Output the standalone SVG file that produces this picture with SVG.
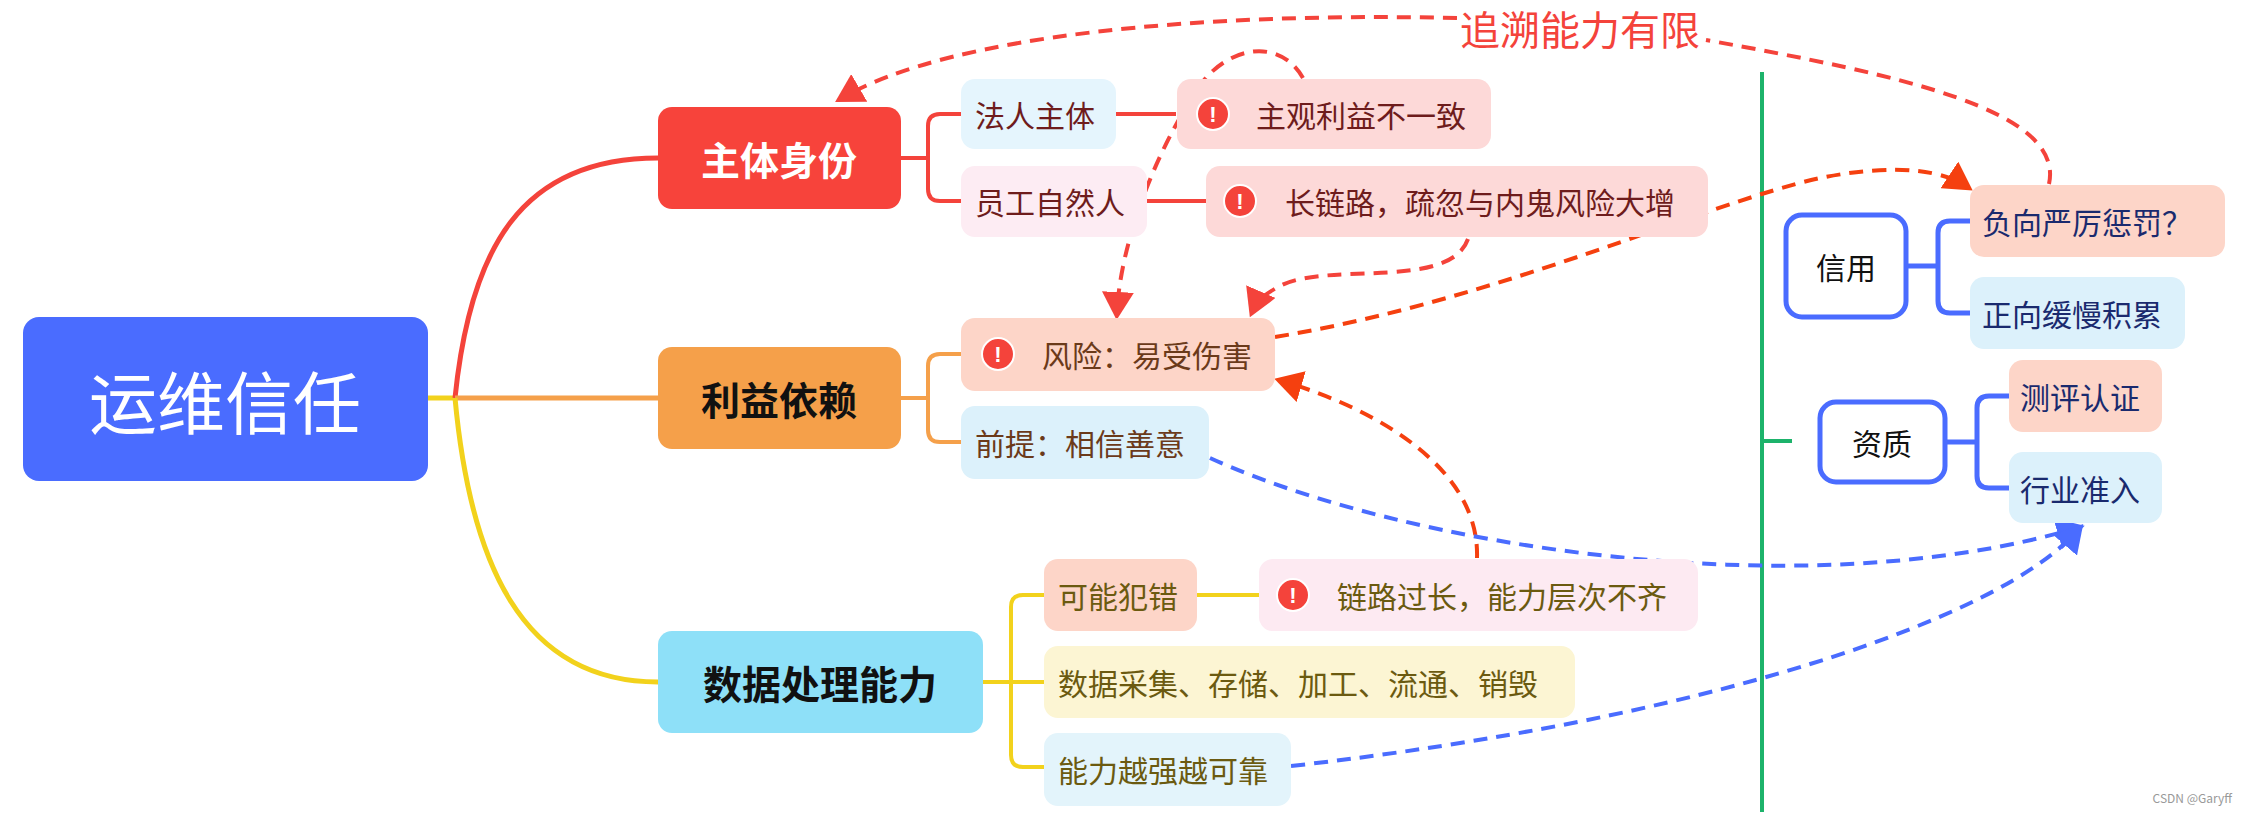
<svg xmlns="http://www.w3.org/2000/svg" width="2248" height="814" viewBox="0 0 2248 814">
<defs>
<style>
text{font-family:"Noto Sans CJK SC","Noto Sans",sans-serif;dominant-baseline:central}
.t{font-size:30px}
.m{font-size:39px;font-weight:bold}
.r{fill:#6e1c1c}.o{fill:#6b3a1a}.y{fill:#6b5a10}.b{fill:#1a2a6e}
.ic{fill:#f4433b;stroke:#fff;stroke-width:2}
.ix{fill:#fff;font-size:22px;font-weight:bold;font-family:"Liberation Sans",sans-serif;text-anchor:middle}
.dr{fill:none;stroke:#f4433b;stroke-width:4;stroke-dasharray:14 9}
.do{fill:none;stroke:#f5400f;stroke-width:4;stroke-dasharray:14 9}
.db{fill:none;stroke:#4a6cff;stroke-width:4;stroke-dasharray:14 9}
</style>
<marker id="ar" markerWidth="8" markerHeight="8" refX="5" refY="4" orient="auto" markerUnits="strokeWidth"><path d="M0,0L7,4L0,8z" fill="#f4433b"/></marker>
<marker id="ao" markerWidth="8" markerHeight="8" refX="5" refY="4" orient="auto" markerUnits="strokeWidth"><path d="M0,0L7,4L0,8z" fill="#f5400f"/></marker>
<marker id="ab" markerWidth="8" markerHeight="8" refX="5" refY="4" orient="auto" markerUnits="strokeWidth"><path d="M0,0L7,4L0,8z" fill="#4a6cff"/></marker>
</defs>
<rect width="2248" height="814" fill="#fff"/>
<g id="connectors" fill="none" stroke-width="5">
<path d="M428,398H458" stroke="#f2d21c"/>
<path d="M455,398C470,250 520,158 658,158" stroke="#f4433b"/>
<path d="M455,398H658" stroke="#f5a04a"/>
<path d="M455,398C470,560 520,682 658,682" stroke="#f2d21c"/>
<path d="M901,158H928M961,114H940Q928,114 928,126V189Q928,201 940,201H961" stroke="#f4433b" stroke-width="4"/>
<path d="M1116,114H1176M1147,201H1206" stroke="#f4433b" stroke-width="4"/>
<path d="M901,398H928M961,354H940Q928,354 928,366V430Q928,442 940,442H961" stroke="#f5a04a" stroke-width="4"/>
<path d="M983,682H1044M1044,595H1023Q1011,595 1011,607V755Q1011,767 1023,767H1044" stroke="#f2d21c" stroke-width="4"/>
<path d="M1197,595H1259" stroke="#f2d21c" stroke-width="4"/>
<path d="M1762,72V812M1762,441H1792" stroke="#1db36b" stroke-width="4"/>
<path d="M1906,266H1938M1970,221H1950Q1938,221 1938,233V301Q1938,313 1950,313H1970" stroke="#4a6cff" stroke-width="5"/>
<path d="M1945,442H1977M2009,396H1989Q1977,396 1977,408V476Q1977,488 1989,488H2009" stroke="#4a6cff" stroke-width="5"/>
<path class="dr" d="M2049,184C2065,110 1900,75 1706,40"/>
<path class="dr" d="M1457,18C1200,12 950,35 842,98" marker-end="url(#ar)"/>
<path class="dr" d="M1303,78C1280,38 1230,45 1200,85C1150,160 1120,250 1117,312" marker-end="url(#ar)"/>
<path class="dr" d="M1468,239C1450,290 1330,262 1282,285C1262,295 1256,303 1253,310" marker-end="url(#ar)"/>
<path class="do" d="M1275,337C1500,300 1700,205 1820,178C1900,162 1945,172 1966,186" marker-end="url(#ao)"/>
<path class="do" d="M1477,558C1480,470 1380,410 1282,381" marker-end="url(#ao)"/>
<path class="db" d="M1210,458C1400,545 1800,610 2077,528" marker-end="url(#ab)"/>
<path class="db" d="M1291,766C1700,720 2000,620 2078,530" marker-end="url(#ab)"/>
</g>
<text x="1580" y="28" font-size="40" fill="#f4433b" text-anchor="middle">追溯能力有限</text>
<g id="root"><rect x="23" y="317" width="405" height="164" rx="16" fill="#4a6cff"/><text x="225" y="399" font-size="68" fill="#fff" text-anchor="middle">运维信任</text></g>
<g id="n1"><rect x="658" y="107" width="243" height="102" rx="14" fill="#f7433b"/><text class="m" x="779" y="158" fill="#fff" text-anchor="middle">主体身份</text></g>
<g id="n2"><rect x="658" y="347" width="243" height="102" rx="14" fill="#f5a04a"/><text class="m" x="779" y="398" fill="#111" text-anchor="middle">利益依赖</text></g>
<g id="n3"><rect x="658" y="631" width="325" height="102" rx="14" fill="#8ee0f8"/><text class="m" x="820" y="682" fill="#111" text-anchor="middle">数据处理能力</text></g>
<g id="c1"><rect x="961" y="79" width="155" height="70" rx="14" fill="#e5f5fd"/><text class="t r" x="975" y="114">法人主体</text></g>
<g id="c2"><rect x="961" y="166" width="186" height="71" rx="14" fill="#fdecf3"/><text class="t r" x="975" y="201">员工自然人</text></g>
<g id="c3"><rect x="1177" y="79" width="314" height="70" rx="14" fill="#fdd9d8"/><circle class="ic" cx="1213" cy="114" r="16"/><text class="ix" x="1213" y="114">!</text><text class="t r" x="1256" y="114">主观利益不一致</text></g>
<g id="c4"><rect x="1206" y="166" width="502" height="71" rx="14" fill="#fdd9d8"/><circle class="ic" cx="1240" cy="201" r="16"/><text class="ix" x="1240" y="201">!</text><text class="t r" x="1285" y="201">长链路，疏忽与内鬼风险大增</text></g>
<g id="c5"><rect x="961" y="318" width="314" height="73" rx="14" fill="#fdd5c8"/><circle class="ic" cx="998" cy="354" r="16"/><text class="ix" x="998" y="354">!</text><text class="t o" x="1042" y="354">风险：易受伤害</text></g>
<g id="c6"><rect x="961" y="406" width="248" height="73" rx="14" fill="#dcf1fb"/><text class="t o" x="975" y="442">前提：相信善意</text></g>
<g id="c7"><rect x="1044" y="559" width="153" height="72" rx="14" fill="#fdd5c8"/><text class="t y" x="1058" y="595">可能犯错</text></g>
<g id="c8"><rect x="1259" y="559" width="439" height="72" rx="14" fill="#fdeaf2"/><circle class="ic" cx="1293" cy="595" r="16"/><text class="ix" x="1293" y="595">!</text><text class="t y" x="1337" y="595">链路过长，能力层次不齐</text></g>
<g id="c9"><rect x="1044" y="646" width="531" height="72" rx="14" fill="#fcf5d3"/><text class="t y" x="1058" y="682">数据采集、存储、加工、流通、销毁</text></g>
<g id="c10"><rect x="1044" y="733" width="247" height="73" rx="14" fill="#e3f4fb"/><text class="t y" x="1058" y="769">能力越强越可靠</text></g>
<g id="x1"><rect x="1786" y="215" width="120" height="102" rx="16" fill="#fff" stroke="#4a6cff" stroke-width="5"/><text x="1846" y="266" font-size="30" fill="#111" text-anchor="middle">信用</text></g>
<g id="x2"><rect x="1820" y="402" width="125" height="80" rx="16" fill="#fff" stroke="#4a6cff" stroke-width="5"/><text x="1882" y="442" font-size="30" fill="#111" text-anchor="middle">资质</text></g>
<g id="x3"><rect x="1970" y="185" width="255" height="72" rx="14" fill="#fdd5c8"/><text class="t b" x="1982" y="221">负向严厉惩罚？</text></g>
<g id="x4"><rect x="1970" y="277" width="215" height="72" rx="14" fill="#dcf1fb"/><text class="t b" x="1982" y="313">正向缓慢积累</text></g>
<g id="x5"><rect x="2009" y="360" width="153" height="72" rx="14" fill="#fdd5c8"/><text class="t b" x="2020" y="396">测评认证</text></g>
<g id="x6"><rect x="2009" y="452" width="153" height="71" rx="14" fill="#dcf1fb"/><text class="t b" x="2020" y="488">行业准入</text></g>
<text x="2232" y="797" font-size="12" fill="#999" text-anchor="end" font-family="Liberation Sans,sans-serif">CSDN @Garyff</text>
</svg>
